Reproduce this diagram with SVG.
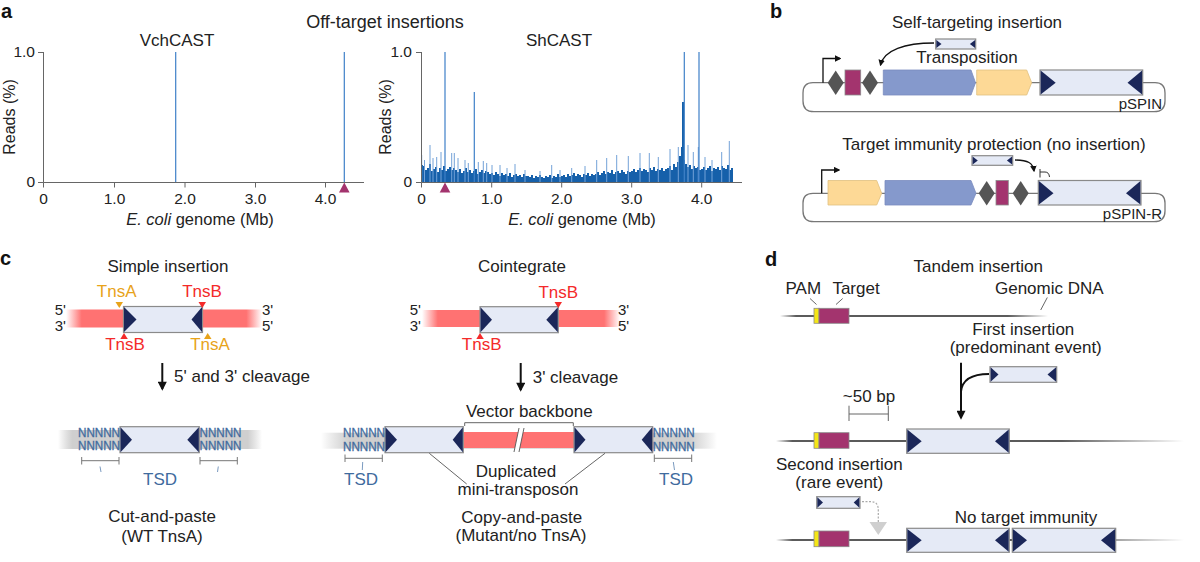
<svg xmlns="http://www.w3.org/2000/svg" width="1200" height="562" viewBox="0 0 1200 562">
<style>
text{font-family:"Liberation Sans",Arial,sans-serif;fill:#222}
.pl{font-size:20px;font-weight:bold;fill:#111}
.lb{font-size:17px}
.tk{font-size:15.5px}
.sm{font-size:15px}
.tn{fill:#e5eaf6;stroke:#8a8a8a;stroke-width:1.2}
.tri{fill:#1b2759}
.ax{stroke:#666;stroke-width:1;fill:none}
.bk{stroke:#777;stroke-width:1.3;fill:none}
.ld{stroke:#555;stroke-width:0.9;fill:none}
.nn{font-size:12px;fill:#3f6b9e;stroke:#3f6b9e;stroke-width:0.3}
.bl{fill:#3f6b9e}
.tb{fill:#f42a2a}
.ta{fill:#e8a31a}
.mg{fill:#a3346e;stroke:#8a8a8a;stroke-width:0.8}
.dm{fill:#555}
.sp{stroke:#73a2d8;stroke-width:1}
.tall{stroke:#3f80c8;stroke-width:1.2}
.arr{stroke:#111;stroke-width:2;fill:none}
.carr{stroke:#111;stroke-width:1.3;fill:none}
</style>
<defs>
<marker id="ah" viewBox="0 0 10 10" refX="8" refY="5" markerWidth="5" markerHeight="5" orient="auto"><path d="M0,0 L10,5 L0,10 z" fill="#111"/></marker>
<marker id="ahb" viewBox="0 0 10 10" refX="8" refY="5" markerWidth="5.5" markerHeight="4.5" orient="auto"><path d="M0,0 L10,5 L0,10 z" fill="#111"/></marker>
<linearGradient id="redf" x1="0" y1="0" x2="1" y2="0"><stop offset="0" stop-color="#ff7272" stop-opacity="0"/><stop offset="0.08" stop-color="#ff7272"/><stop offset="0.92" stop-color="#ff7272"/><stop offset="1" stop-color="#ff7272" stop-opacity="0"/></linearGradient>
<linearGradient id="grayf" x1="0" y1="0" x2="1" y2="0"><stop offset="0" stop-color="#c8c8c8" stop-opacity="0"/><stop offset="0.07" stop-color="#cfcfcf"/><stop offset="0.93" stop-color="#cfcfcf"/><stop offset="1" stop-color="#c8c8c8" stop-opacity="0"/></linearGradient>
<linearGradient id="dna1" x1="0" y1="0" x2="1" y2="0"><stop offset="0" stop-color="#333" stop-opacity="0"/><stop offset="0.06" stop-color="#333"/><stop offset="0.85" stop-color="#333"/><stop offset="1" stop-color="#333" stop-opacity="0"/></linearGradient>
<linearGradient id="dna2" x1="0" y1="0" x2="1" y2="0"><stop offset="0" stop-color="#333" stop-opacity="0"/><stop offset="0.04" stop-color="#333"/><stop offset="0.7" stop-color="#333"/><stop offset="1" stop-color="#333" stop-opacity="0"/></linearGradient>
</defs>
<rect width="1200" height="562" fill="#fff"/>

<!-- Panel a -->
<g id="panel-a">
<text class="pl" x="1" y="18">a</text>
<text class="lb" x="385" y="28" text-anchor="middle" style="font-size:18px">Off-target insertions</text>
<g id="plot-vch">
<text class="lb" x="177" y="46" text-anchor="middle">VchCAST</text>
<path class="ax" d="M43.5 52V182.5H364M38 52.5H43.5M38 182.5H43.5M43.5 182.5v5M114.5 182.5v5M185 182.5v5M255.5 182.5v5M325.5 182.5v5"/>
<text class="tk" x="35" y="57" text-anchor="end">1.0</text>
<text class="tk" x="35" y="187" text-anchor="end">0</text>
<text class="tk" x="43.5" y="204" text-anchor="middle">0</text>
<text class="tk" x="114.5" y="204" text-anchor="middle">1.0</text>
<text class="tk" x="185" y="204" text-anchor="middle">2.0</text>
<text class="tk" x="255.5" y="204" text-anchor="middle">3.0</text>
<text class="tk" x="325.5" y="204" text-anchor="middle">4.0</text>
<text class="lb" x="15" y="117" text-anchor="middle" transform="rotate(-90 15 117)" style="font-size:16px">Reads (%)</text>
<text class="lb" x="200" y="225" text-anchor="middle" style="font-size:16.5px"><tspan font-style="italic">E. coli</tspan> genome (Mb)</text>
<path class="tall" d="M175.7 52V182M344.3 52V182"/>
<polygon points="344.3,182.5 339,192.5 349.6,192.5" fill="#a3346e"/>
</g>
<g id="plot-sh">
<text class="lb" x="559" y="46" text-anchor="middle">ShCAST</text>
<path d="M421 182V165h2V166h2V170h2V168h2V164h2V171h2V169h2V167h2V172h2V168h2V170h2V166h2V171h2V169h2V167h2V170h2V168h2V170h2V172h2V169h2V173h2V171h2V168h2V172h2V170h2V173h2V171h2V169h2V174h2V172h2V170h2V173h2V171h2V172h2V174h2V173h2V175h2V172h2V174h2V176h2V173h2V175h2V174h2V176h2V173h2V177h2V175h2V174h2V176h2V175h2V177h2V174h2V176h2V176h2V177h2V175h2V178h2V176h2V177h2V175h2V177h2V178h2V176h2V177h2V175h2V178h2V176h2V177h2V174h2V177h2V176h2V175h2V177h2V174h2V176h2V175h2V173h2V176h2V174h2V175h2V177h2V174h2V175h2V173h2V176h2V174h2V175h2V174h2V172h2V175h2V173h2V171h2V174h2V172h2V173h2V170h2V174h2V172h2V171h2V173h2V170h2V172h2V174h2V171h2V172h2V171h2V169h2V172h2V170h2V168h2V171h2V169h2V170h2V172h2V168h2V170h2V167h2V171h2V169h2V170h2V168h2V171h2V169h2V168h2V166h2V170h2V164h2V167h2V162h2V156h2V147h2V160h2V164h2V167h2V165h2V169h2V166h2V168h2V167h2V170h2V169h2V167h2V170h2V168h2V166h2V171h2V168h2V169h2V167h2V170h2V166h2V168h2V169h2V165h2V170h2V168h2V182Z" fill="#1660aa"/>
<path class="sp" d="M421.7 182V155M424.5 182V160M430 182V145M433 182V158M436.7 182V157M441 182V152M451.7 182V153M454.3 182V153M458 182V158M465 182V160M468.3 182V163M478.3 182V162M483.3 182V161M486.7 182V163M492 182V165M500 182V165M507 182V168M515 182V164M525 182V170M540 182V171M551.7 182V165M560 182V170M571.7 182V168M585 182V166M596.7 182V160M606.7 182V158M616.7 182V155M628.3 182V156M640 182V153M649.3 182V153M658.3 182V157M670 182V149M678.3 182V147M688 182V145M693.3 182V152M698.3 182V147M705 182V157M712 182V160M721.7 182V152M729.3 182V141"/>
<path d="M683 182V102" stroke="#1660aa" stroke-width="2"/>
<path class="tall" d="M445 52V182M474.3 92V182M699 52V182"/>
<path class="tall" d="M684.3 52V182" stroke-width="2"/>
<path class="ax" d="M421.5 52V182.5H742M416 52.5H421.5M416 182.5H421.5M421.5 182.5v5M491.7 182.5v5M561.7 182.5v5M631.7 182.5v5M701.7 182.5v5"/>
<text class="tk" x="412" y="57" text-anchor="end">1.0</text>
<text class="tk" x="412" y="187" text-anchor="end">0</text>
<text class="tk" x="421.5" y="204" text-anchor="middle">0</text>
<text class="tk" x="491.7" y="204" text-anchor="middle">1.0</text>
<text class="tk" x="561.7" y="204" text-anchor="middle">2.0</text>
<text class="tk" x="631.7" y="204" text-anchor="middle">3.0</text>
<text class="tk" x="701.7" y="204" text-anchor="middle">4.0</text>
<text class="lb" x="391" y="117" text-anchor="middle" transform="rotate(-90 391 117)" style="font-size:16px">Reads (%)</text>
<text class="lb" x="582" y="225" text-anchor="middle" style="font-size:16.5px"><tspan font-style="italic">E. coli</tspan> genome (Mb)</text>
<polygon points="445,182.5 439.7,192.5 450.3,192.5" fill="#a3346e"/>
</g>
</g>

<!-- Panel b -->
<g id="panel-b">
<text class="pl" x="770" y="18">b</text>
<text class="lb" x="977" y="28" text-anchor="middle">Self-targeting insertion</text>
<text class="lb" x="967" y="63" text-anchor="middle">Transposition</text>
<g id="pspin">
<path class="bk" d="M823 82.7H813Q803 82.7 803 93V101Q803 111.7 814 111.7H1154Q1165 111.7 1165 101V93Q1165 82.7 1155 82.7H823"/>
<path d="M823 82.7V58.5H840" stroke="#111" stroke-width="1.3" fill="none" marker-end="url(#ah)"/>
<polygon class="dm" points="835.7,70.5 843.7,82.7 835.7,95 827.7,82.7"/>
<rect class="mg" x="845" y="70" width="15.7" height="25"/>
<polygon class="dm" points="870,70.5 878,82.7 870,95 862,82.7"/>
<polygon points="883.3,70 971,70 975.5,82.7 971,95 883.3,95" fill="#8599cc" stroke="#7a8cbf" stroke-width="0.8"/>
<polygon points="976.7,70 1026.7,70 1031.7,82.7 1026.7,95 976.7,95" fill="#fdd996" stroke="#e0c080" stroke-width="0.8"/>
<rect class="tn" x="1040" y="70" width="102.7" height="25"/>
<polygon class="tri" points="1040.6,70.6 1055.7,82.7 1040.6,94.4"/>
<polygon class="tri" points="1142.1,70.6 1127.5,82.7 1142.1,94.4"/>
<text class="sm" x="1162" y="109" text-anchor="end">pSPIN</text>
</g>
<g id="mini-b1">
<rect class="tn" x="935.7" y="39" width="40" height="10"/>
<polygon class="tri" points="936.3,40 941.5,44 936.3,48"/>
<polygon class="tri" points="975.1,40 969.9,44 975.1,48"/>
</g>
<text class="lb" x="994" y="150" text-anchor="middle">Target immunity protection (no insertion)</text>
<g id="pspin-r">
<path class="bk" d="M822 193.3H813Q803 193.3 803 203V211Q803 221.7 814 221.7H1154Q1165 221.7 1165 211V203Q1165 193.3 1155 193.3H822"/>
<path d="M821.7 193.3V170H839" stroke="#111" stroke-width="1.3" fill="none" marker-end="url(#ah)"/>
<polygon points="828,180.5 876.7,180.5 881.7,193.3 876.7,205 828,205" fill="#fdd996" stroke="#e0c080" stroke-width="0.8"/>
<polygon points="885,180.5 971,180.5 976,193.3 971,205 885,205" fill="#8599cc" stroke="#7a8cbf" stroke-width="0.8"/>
<polygon class="dm" points="986.7,181 994.7,193.3 986.7,205.5 978.7,193.3"/>
<rect class="mg" x="996" y="180.5" width="12.3" height="24.5"/>
<polygon class="dm" points="1020.7,181 1028.7,193.3 1020.7,205.5 1012.7,193.3"/>
<rect class="tn" x="1038.3" y="180.5" width="102.7" height="24.5"/>
<polygon class="tri" points="1038.9,181.1 1053.5,193.3 1038.9,204.4"/>
<polygon class="tri" points="1140.4,181.1 1126,193.3 1140.4,204.4"/>
<text class="sm" x="1162" y="219" text-anchor="end">pSPIN-R</text>
</g>
<g id="mini-b2">
<rect class="tn" x="972" y="155.7" width="40.7" height="9.6"/>
<polygon class="tri" points="972.6,156.6 977.8,160.5 972.6,164.4"/>
<polygon class="tri" points="1012.1,156.6 1006.9,160.5 1012.1,164.4"/>
</g>
</g>

<!-- Panel c -->
<g id="panel-c">
<text class="pl" x="0" y="265">c</text>
<g id="simple-insertion">
<text class="lb" x="168" y="272" text-anchor="middle">Simple insertion</text>
<rect x="66" y="309.5" width="196" height="18" fill="url(#redf)"/>
<rect class="tn" x="123.5" y="306.5" width="79" height="26"/>
<polygon class="tri" points="124,307 136.5,319.5 124,332"/>
<polygon class="tri" points="202,307 191.5,319.5 202,332"/>
<text class="sm" x="66" y="315" text-anchor="end">5'</text>
<text class="sm" x="66" y="331" text-anchor="end">3'</text>
<text class="sm" x="262" y="315">3'</text>
<text class="sm" x="262" y="331">5'</text>
<polygon class="ta" points="115.5,302 123,302 119.3,308"/>
<text class="lb ta" x="116.7" y="297" text-anchor="middle">TnsA</text>
<polygon class="tb" points="198.5,302 206,302 202.3,308"/>
<text class="lb tb" x="202" y="297" text-anchor="middle">TnsB</text>
<polygon class="tb" points="120.3,339 127.8,339 124,333"/>
<text class="lb tb" x="125" y="350" text-anchor="middle">TnsB</text>
<polygon class="ta" points="204,339 211.5,339 207.7,333"/>
<text class="lb ta" x="210" y="350" text-anchor="middle">TnsA</text>
<text class="lb" x="174" y="382">5' and 3' cleavage</text>
</g>
<g id="cut-and-paste">
<rect x="58" y="430" width="204" height="19" fill="url(#grayf)"/>
<rect class="tn" x="120" y="426.7" width="79.3" height="26"/>
<polygon class="tri" points="120.5,427.2 132,439.7 120.5,452.2"/>
<polygon class="tri" points="198.8,427.2 187.3,439.7 198.8,452.2"/>
<text class="nn" x="78" y="436.5" textLength="42" lengthAdjust="spacingAndGlyphs">NNNNN</text>
<text class="nn" x="78" y="450.3" textLength="42" lengthAdjust="spacingAndGlyphs">NNNNN</text>
<text class="nn" x="199.5" y="436.5" textLength="42" lengthAdjust="spacingAndGlyphs">NNNNN</text>
<text class="nn" x="199.5" y="450.3" textLength="42" lengthAdjust="spacingAndGlyphs">NNNNN</text>
<path d="M81.7 460.7H119M81.7 457V464.5M119 457V464.5M200 460.7H237.3M200 457V464.5M237.3 457V464.5" stroke="#777" stroke-width="1" fill="none"/>
<path d="M100 466.5L101 472M218.3 466.5L217.5 472" stroke="#6b8fb8" stroke-width="0.9"/>
<text class="lb bl" x="160" y="485" text-anchor="middle">TSD</text>
<text class="lb" x="162" y="522" text-anchor="middle">Cut-and-paste</text>
<text class="lb" x="162" y="542" text-anchor="middle">(WT TnsA)</text>
</g>
<g id="cointegrate">
<text class="lb" x="522" y="272" text-anchor="middle">Cointegrate</text>
<rect x="422" y="310" width="198" height="17" fill="url(#redf)"/>
<rect class="tn" x="480" y="306.7" width="78.3" height="26"/>
<polygon class="tri" points="480.5,307.2 492,319.7 480.5,332.2"/>
<polygon class="tri" points="557.8,307.2 546.3,319.7 557.8,332.2"/>
<text class="sm" x="421" y="315" text-anchor="end">5'</text>
<text class="sm" x="421" y="331" text-anchor="end">3'</text>
<text class="sm" x="618" y="315">3'</text>
<text class="sm" x="618" y="331">5'</text>
<polygon class="tb" points="554.5,302 562,302 558.3,308"/>
<text class="lb tb" x="558.3" y="298" text-anchor="middle">TnsB</text>
<polygon class="tb" points="476.3,339 483.8,339 480,333"/>
<text class="lb tb" x="481.7" y="350" text-anchor="middle">TnsB</text>
<text class="lb" x="532.7" y="383">3' cleavage</text>
</g>
<g id="copy-and-paste">
<rect x="321" y="432.7" width="396" height="16" fill="url(#grayf)"/>
<rect x="463.3" y="432" width="110.7" height="16" fill="#ff7272"/>
<polygon points="514,452 519,428 524,428 519,452" fill="#fff"/>
<path d="M514 452L519 428M519 452L524 428" stroke="#555" stroke-width="0.9"/>
<rect class="tn" x="385" y="426.7" width="78.3" height="26"/>
<polygon class="tri" points="385.5,427.2 397,439.7 385.5,452.2"/>
<polygon class="tri" points="462.8,427.2 452.7,439.7 462.8,452.2"/>
<rect class="tn" x="574" y="426.7" width="78.7" height="26"/>
<polygon class="tri" points="574.5,427.2 585.5,439.7 574.5,452.2"/>
<polygon class="tri" points="652.2,427.2 641.7,439.7 652.2,452.2"/>
<path d="M464.7 426V422.7H573.3V426" stroke="#666" stroke-width="1" fill="none"/>
<text class="lb" x="529.3" y="417.3" text-anchor="middle">Vector backbone</text>
<text class="nn" x="343" y="437" textLength="42" lengthAdjust="spacingAndGlyphs">NNNNN</text>
<text class="nn" x="343" y="450.8" textLength="42" lengthAdjust="spacingAndGlyphs">NNNNN</text>
<text class="nn" x="652.7" y="437" textLength="42" lengthAdjust="spacingAndGlyphs">NNNNN</text>
<text class="nn" x="652.7" y="450.8" textLength="42" lengthAdjust="spacingAndGlyphs">NNNNN</text>
<path d="M345 458.3H382.3M345 454.5V462M382.3 454.5V462M654.3 458.3H691.7M654.3 454.5V462M691.7 454.5V462" stroke="#777" stroke-width="1" fill="none"/>
<path d="M362.7 462L362.3 470M673.3 462L674.5 470" stroke="#6b8fb8" stroke-width="0.9"/>
<text class="lb bl" x="361" y="485" text-anchor="middle">TSD</text>
<text class="lb bl" x="676" y="485" text-anchor="middle">TSD</text>
<text class="lb" x="516" y="477.3" text-anchor="middle">Duplicated</text>
<text class="lb" x="518" y="495" text-anchor="middle">mini-transposon</text>
<text class="lb" x="521.7" y="523" text-anchor="middle">Copy-and-paste</text>
<text class="lb" x="521" y="541" text-anchor="middle">(Mutant/no TnsA)</text>
</g>
</g>

<!-- Panel d -->
<g id="panel-d">
<text class="pl" x="765" y="266">d</text>
<text class="lb" x="978.3" y="272" text-anchor="middle">Tandem insertion</text>
<g id="genomic-dna">
<text class="lb" x="803.3" y="294" text-anchor="middle">PAM</text>
<text class="lb" x="856" y="294" text-anchor="middle">Target</text>
<text class="lb" x="1049.3" y="294" text-anchor="middle">Genomic DNA</text>
<rect x="780" y="315.2" width="268" height="1.6" fill="url(#dna1)"/>
<rect x="814" y="308.3" width="5" height="15" fill="#f5e616" stroke="#8a8a8a" stroke-width="0.8"/>
<rect class="mg" x="819" y="308.3" width="30" height="15"/>
</g>
<text class="lb" x="1023.3" y="335" text-anchor="middle">First insertion</text>
<text class="lb" x="1025.7" y="353.3" text-anchor="middle">(predominant event)</text>
<g id="mini-d1">
<rect class="tn" x="990" y="366.7" width="66.7" height="15.6"/>
<polygon class="tri" points="990.6,367.3 998.5,374.5 990.6,381.7"/>
<polygon class="tri" points="1056.1,367.3 1047.5,374.5 1056.1,381.7"/>
</g>
<text class="lb" x="869" y="401.7" text-anchor="middle">~50 bp</text>
<path d="M849 414H888.3M849 405.7V421M888.3 405.7V421" stroke="#666" stroke-width="1" fill="none"/>
<g id="first-insertion">
<rect x="776" y="440.2" width="408" height="1.6" fill="url(#dna2)"/>
<rect x="814" y="432.7" width="5" height="15.6" fill="#f5e616" stroke="#8a8a8a" stroke-width="0.8"/>
<rect class="mg" x="819" y="432.7" width="30" height="15.6"/>
<rect class="tn" x="906.7" y="429" width="102.6" height="24.3"/>
<polygon class="tri" points="907.3,429.6 921.7,441.2 907.3,452.7"/>
<polygon class="tri" points="1008.7,429.6 995,441.2 1008.7,452.7"/>
</g>
<text class="lb" x="839.3" y="470" text-anchor="middle">Second insertion</text>
<text class="lb" x="839.3" y="488.3" text-anchor="middle">(rare event)</text>
<g id="mini-d2">
<rect class="tn" x="816.7" y="496.7" width="43.3" height="11.6"/>
<polygon class="tri" points="817.3,497.3 823,502.5 817.3,507.7"/>
<polygon class="tri" points="859.4,497.3 853.7,502.5 859.4,507.7"/>
</g>
<text class="lb" x="1026" y="522.7" text-anchor="middle">No target immunity</text>
<g id="second-insertion">
<rect x="776" y="539.2" width="408" height="1.6" fill="url(#dna2)"/>
<rect x="814" y="531" width="5" height="15.7" fill="#f5e616" stroke="#8a8a8a" stroke-width="0.8"/>
<rect class="mg" x="819" y="531" width="30" height="15.7"/>
<rect class="tn" x="906.7" y="528.3" width="102.6" height="24"/>
<polygon class="tri" points="907.3,528.9 921.7,540.3 907.3,551.7"/>
<polygon class="tri" points="1008.7,528.9 995,540.3 1008.7,551.7"/>
<rect class="tn" x="1012.3" y="528.3" width="103.4" height="24"/>
<polygon class="tri" points="1012.9,528.9 1027,540.3 1012.9,551.7"/>
<polygon class="tri" points="1115.1,528.9 1101,540.3 1115.1,551.7"/>
</g>
</g>

<!-- Connectors -->
<g id="connectors">
<path class="carr" d="M934 43C905 43 884 50 880.5 65" marker-end="url(#ah)"/>
<path class="carr" d="M1015 160C1028 160 1033 163 1034 171" marker-end="url(#ah)"/>
<path d="M1040 169V177.5M1040 172H1045Q1049 172 1049.5 177" stroke="#333" stroke-width="1" fill="none"/>
<path class="arr" d="M162.3 363V389" marker-end="url(#ahb)"/>
<path class="arr" d="M520.7 363V390" marker-end="url(#ahb)"/>
<path class="ld" d="M429.3 453.3L466.7 484M605 453.3L565 484"/>
<path class="ld" d="M810 298.5L816.5 304.5M842.7 298.5L836 304.5M1047.3 297.5L1040.7 310"/>
<path class="arr" d="M961 362.7V418" marker-end="url(#ahb)"/>
<path d="M989 374C972 374 962 379 961 392" stroke="#111" stroke-width="1.8" fill="none"/>
<path d="M862 501.7H871Q878.3 501.7 878.3 510V522" stroke="#aaa" stroke-width="1.2" stroke-dasharray="2,1.5" fill="none"/>
<polygon points="869.5,522 887,522 878.3,535" fill="#cfcfcf"/>
</g>
</svg>
